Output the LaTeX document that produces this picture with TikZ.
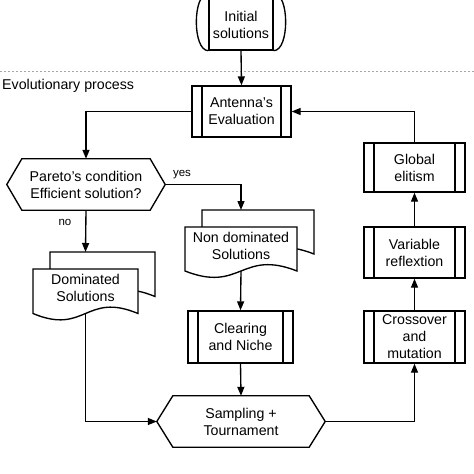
\documentclass[tikz,border=0pt]{standalone}
\usepackage{fontspec}
\setmainfont{Liberation Sans}
\usetikzlibrary{arrows.meta}
\tikzset{
  shapeline/.style={line width=1.35pt, line join=miter},
  conn/.style={line width=1.35pt, -{Triangle[length=9pt,width=7pt]}},
  txt/.style={align=center, inner sep=0pt, font=\fontsize{14.2}{17}\selectfont},
  lbl/.style={inner sep=0pt, font=\fontsize{11.5}{14}\selectfont},
  proc/.style={draw, shapeline, fill=white, align=center, inner sep=0pt,
    font=\fontsize{14.2}{17}\selectfont,
    path picture={
      \draw[line width=1.35pt] ([xshift=10pt]path picture bounding box.north west) -- ([xshift=10pt]path picture bounding box.south west);
      \draw[line width=1.35pt] ([xshift=-10pt]path picture bounding box.north east) -- ([xshift=-10pt]path picture bounding box.south east);
    }},
  hexbox/.style={align=center, inner sep=0pt, font=\fontsize{14.2}{17}\selectfont},
}
% name, x0, ytop, width, ybottom, text centre y, text
\newcommand{\docshape}[7]{%
  \begin{scope}[shift={(17,-17)}]
    \filldraw[shapeline, fill=white] (#2,#3) -- (#2+#4,#3) -- (#2+#4,#5)
      .. controls (#2+#4/2,#5-22) and (#2+#4/2,#5+22) .. (#2,#5) -- cycle;
  \end{scope}
  \filldraw[shapeline, fill=white] (#2,#3) -- (#2+#4,#3) -- (#2+#4,#5)
      .. controls (#2+#4/2,#5-22) and (#2+#4/2,#5+22) .. (#2,#5) -- cycle;
  \node[txt] (#1) at (#2+#4/2,#6) {#7};
  \coordinate (#1-top) at (#2+#4/2,#3-17);
  \coordinate (#1-bot) at (#2+#4/2,#5);
}
\begin{document}
\begin{tikzpicture}[x=1pt,y=-1pt]
\useasboundingbox[fill=white] (0,0) rectangle (474,474);

% initial solutions
\node[draw, shapeline, minimum width=64pt, minimum height=56pt, inner sep=0pt] (initbox) at (241,22) {};
\draw[shapeline] (initbox.south west) .. controls ([xshift=-16pt]initbox.south west) and ([xshift=-16pt]initbox.north west) .. (initbox.north west);
\draw[shapeline] (initbox.south east) .. controls ([xshift=16pt]initbox.south east) and ([xshift=16pt]initbox.north east) .. (initbox.north east);
\node[txt] (init) at (241,24.5) {Initial\\solutions};

% dashed separator
\coordinate (dl) at (0,71);
\coordinate (dr) at (474,71);
\draw[gray!70, line width=0.7pt, dash pattern=on 2pt off 2pt] (dl) -- (dr);
\node[txt, anchor=west] (evo) at (2,85.5) {Evolutionary process};

% process boxes
\node[proc, minimum width=99pt, minimum height=51pt] (eval) at (241.5,111.5) {Antenna’s\\Evaluation};
\node[proc, minimum width=101pt, minimum height=49pt] (glob) at (414.5,167.5) {Global\\elitism};
\node[proc, minimum width=101pt, minimum height=51pt] (var) at (414.5,252.5) {Variable\\reflextion};
\node[proc, minimum width=101pt, minimum height=52pt] (cross) at (414.5,337) {Crossover\\and\\mutation};
\node[proc, minimum width=105pt, minimum height=52pt] (clear) at (240.5,337) {Clearing\\and Niche};

% hexagons
\node[hexbox, minimum width=158pt, minimum height=51pt] (pareto) at (86,184.5) {Pareto’s condition\\Efficient solution?};
\draw[shapeline] (pareto.west) -- ([xshift=15pt]pareto.north west) -- ([xshift=-15pt]pareto.north east) -- (pareto.east) -- ([xshift=-15pt]pareto.south east) -- ([xshift=15pt]pareto.south west) -- cycle;
\node[hexbox, minimum width=168pt, minimum height=51pt] (samp) at (241,421.5) {Sampling +\\Tournament};
\draw[shapeline] (samp.west) -- ([xshift=16pt]samp.north west) -- ([xshift=-16pt]samp.north east) -- (samp.east) -- ([xshift=-16pt]samp.south east) -- ([xshift=16pt]samp.south west) -- cycle;

% documents
\docshape{dom}{33}{269}{105}{313.5}{287.5}{Dominated\\Solutions}
\docshape{nondom}{185}{227}{112}{271}{245.5}{Non dominated\\Solutions}

% connectors
\draw[conn] (initbox.south) -- (eval.north);
\draw[conn] (eval.west) -| (pareto.north);
\draw[conn] (pareto.east) -| (nondom-top);
\node[lbl] (yes) at (182,174.5) {yes};
\draw[conn] (pareto.south) -- (dom-top);
\node[lbl] (no) at (65,222) {no};
\draw[conn] (nondom-bot) -- (clear.north);
\draw[conn] (clear.south) -- (samp.north);
\draw[conn] (dom-bot) |- (samp.west);
\draw[conn] (samp.east) -| (cross.south);
\draw[conn] (cross.north) -- (var.south);
\draw[conn] (var.north) -- (glob.south);
\draw[conn] (glob.north) |- (eval.east);
\end{tikzpicture}
\end{document}
